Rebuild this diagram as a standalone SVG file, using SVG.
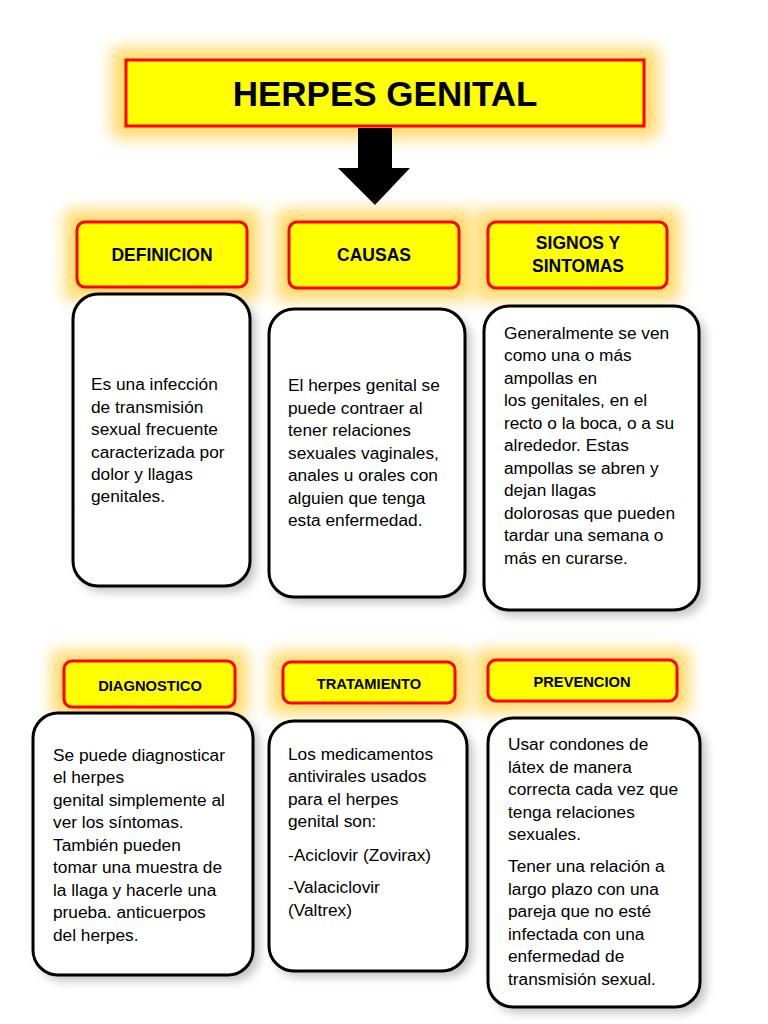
<svg xmlns="http://www.w3.org/2000/svg" width="768" height="1024" viewBox="0 0 768 1024">
<defs>
<filter id="glow" x="-20%" y="-40%" width="140%" height="180%"><feGaussianBlur stdDeviation="8"/></filter>
<filter id="sh" x="-10%" y="-10%" width="130%" height="130%"><feGaussianBlur stdDeviation="5"/></filter>
</defs>
<style>
.hd{fill:#ffff00;stroke:#ff0000;stroke-width:3}
.gl{fill:#ffc000;opacity:0.6;filter:url(#glow)}
.bx{fill:#fff;stroke:#000;stroke-width:3}
.sd{fill:#888;opacity:0.5;filter:url(#sh)}
text{font-family:"Liberation Sans",Arial,sans-serif;fill:#000}
.h{font-weight:bold;font-size:17.5px;text-anchor:middle}
.h2{font-weight:bold;font-size:14.7px;text-anchor:middle}
.t{font-size:17.3px}
</style>
<rect x="0" y="0" width="768" height="1024" fill="#fff"/>
<g id="title">
<rect class="gl" x="112" y="48" width="546" height="90"/>
<rect class="hd" x="126" y="60" width="518" height="66"/>
<text x="385" y="106" style="font-weight:bold;font-size:35px;text-anchor:middle">HERPES GENITAL</text>
</g>
<g id="connectors">
<polygon points="358,128 392,128 392,168 410,168 375,205 338,168 358,168" fill="#000"/>
</g>
<g id="definicion">
<rect class="gl" x="65" y="210" width="194" height="90"/>
<rect class="hd" x="77" y="222" width="170" height="65" rx="8"/>
<text class="h" x="162" y="261">DEFINICION</text>
<rect class="sd" x="78" y="300" width="178" height="292" rx="25"/>
<rect class="bx" x="73" y="294" width="177" height="292" rx="25"/>
<text class="t" x="91" y="390">Es una infección</text>
<text class="t" x="91" y="413">de transmisión</text>
<text class="t" x="91" y="435">sexual frecuente</text>
<text class="t" x="91" y="458">caracterizada por</text>
<text class="t" x="91" y="480">dolor y llagas</text>
<text class="t" x="91" y="502">genitales.</text>
</g>
<g id="causas">
<rect class="gl" x="277" y="210" width="194" height="90"/>
<rect class="hd" x="289" y="222" width="170" height="66" rx="8"/>
<text class="h" x="374" y="261">CAUSAS</text>
<rect class="sd" x="274" y="315" width="197" height="288" rx="25"/>
<rect class="bx" x="269" y="309" width="196" height="288" rx="25"/>
<text class="t" x="288" y="391">El herpes genital se</text>
<text class="t" x="288" y="414">puede contraer al</text>
<text class="t" x="288" y="436">tener relaciones</text>
<text class="t" x="288" y="459">sexuales vaginales,</text>
<text class="t" x="288" y="481">anales u orales con</text>
<text class="t" x="288" y="504">alguien que tenga</text>
<text class="t" x="288" y="526">esta enfermedad.</text>
</g>
<g id="signos">
<rect class="gl" x="476" y="210" width="203" height="90"/>
<rect class="hd" x="488" y="222" width="179" height="66" rx="8"/>
<text class="h" x="578" y="249">SIGNOS Y</text>
<text class="h" x="578" y="272">SINTOMAS</text>
<rect class="sd" x="489" y="312" width="216" height="304" rx="25"/>
<rect class="bx" x="484" y="306" width="215" height="304" rx="25"/>
<text class="t" x="504" y="339">Generalmente se ven</text>
<text class="t" x="504" y="361">como una o más</text>
<text class="t" x="504" y="384">ampollas en</text>
<text class="t" x="504" y="406">los genitales, en el</text>
<text class="t" x="504" y="429">recto o la boca, o a su</text>
<text class="t" x="504" y="451">alrededor. Estas</text>
<text class="t" x="504" y="474">ampollas se abren y</text>
<text class="t" x="504" y="496">dejan llagas</text>
<text class="t" x="504" y="519">dolorosas que pueden</text>
<text class="t" x="504" y="541">tardar una semana o</text>
<text class="t" x="504" y="564">más en curarse.</text>
</g>
<g id="diagnostico">
<rect class="gl" x="52" y="651" width="195" height="66"/>
<rect class="hd" x="64" y="661" width="171" height="46" rx="8"/>
<text class="h2" x="150" y="691">DIAGNOSTICO</text>
<rect class="sd" x="38" y="719" width="221" height="262" rx="25"/>
<rect class="bx" x="33" y="713" width="220" height="262" rx="25"/>
<text class="t" x="53" y="761">Se puede diagnosticar</text>
<text class="t" x="53" y="783">el herpes</text>
<text class="t" x="53" y="806">genital simplemente al</text>
<text class="t" x="53" y="828">ver los síntomas.</text>
<text class="t" x="53" y="851">También pueden</text>
<text class="t" x="53" y="873">tomar una muestra de</text>
<text class="t" x="53" y="896">la llaga y hacerle una</text>
<text class="t" x="53" y="918">prueba. anticuerpos</text>
<text class="t" x="53" y="941">del herpes.</text>
</g>
<g id="tratamiento">
<rect class="gl" x="271" y="652" width="196" height="62"/>
<rect class="hd" x="283" y="662" width="172" height="41" rx="8"/>
<text class="h2" x="369" y="689">TRATAMIENTO</text>
<rect class="sd" x="274" y="727" width="199" height="250" rx="25"/>
<rect class="bx" x="269" y="721" width="198" height="250" rx="25"/>
<text class="t" x="288" y="760">Los medicamentos</text>
<text class="t" x="288" y="782">antivirales usados</text>
<text class="t" x="288" y="805">para el herpes</text>
<text class="t" x="288" y="827">genital son:</text>
<text class="t" x="288" y="861">-Aciclovir (Zovirax)</text>
<text class="t" x="288" y="893">-Valaciclovir</text>
<text class="t" x="288" y="916">(Valtrex)</text>
</g>
<g id="prevencion">
<rect class="gl" x="476" y="650" width="213" height="62"/>
<rect class="hd" x="488" y="660" width="189" height="41" rx="8"/>
<text class="h2" x="582" y="687">PREVENCION</text>
<rect class="sd" x="493" y="724" width="213" height="289" rx="25"/>
<rect class="bx" x="488" y="718" width="212" height="289" rx="25"/>
<text class="t" x="508" y="750">Usar condones de</text>
<text class="t" x="508" y="773">látex de manera</text>
<text class="t" x="508" y="795">correcta cada vez que</text>
<text class="t" x="508" y="818">tenga relaciones</text>
<text class="t" x="508" y="840">sexuales.</text>
<text class="t" x="508" y="872">Tener una relación a</text>
<text class="t" x="508" y="895">largo plazo con una</text>
<text class="t" x="508" y="917">pareja que no esté</text>
<text class="t" x="508" y="940">infectada con una</text>
<text class="t" x="508" y="962">enfermedad de</text>
<text class="t" x="508" y="985">transmisión sexual.</text>
</g>
</svg>
